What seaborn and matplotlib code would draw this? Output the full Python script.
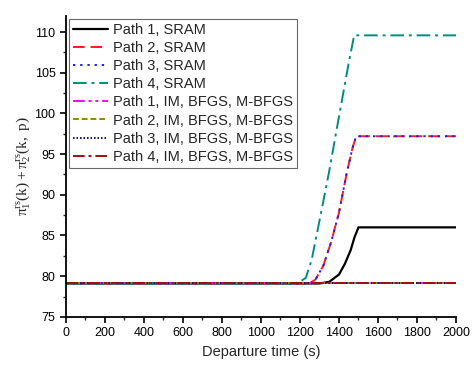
import numpy as np
import pandas as pd
import matplotlib
matplotlib.use("Agg")
import matplotlib.pyplot as plt
import seaborn as sb
from matplotlib.ticker import MultipleLocator

# values
path1_sram_t = [0, 1300, 1350, 1400, 1430, 1460, 1480, 1500, 2000]
path1_sram_v = [79.1, 79.1, 79.3, 80.2, 81.5, 83.2, 84.8, 86.0, 86.0]

path2_sram_t = [0, 1250, 1280, 1320, 1360, 1400, 1440, 1470, 1488, 2000]
path2_sram_v = [79.1, 79.1, 79.6, 81.3, 84.2, 87.8, 92.7, 95.8, 97.2, 97.2]

path3_sram_t = [0, 1250, 1280, 1320, 1360, 1400, 1440, 1470, 1488, 2000]
path3_sram_v = [79.1, 79.1, 79.6, 81.3, 84.2, 87.8, 92.7, 95.8, 97.2, 97.2]

path4_sram_t = [0, 1170, 1200, 1230, 1260, 1300, 1350, 1400, 1450, 1478, 2000]
path4_sram_v = [79.1, 79.1, 79.3, 79.8, 82.0, 86.8, 92.9, 99.6, 106.2, 109.6, 109.6]

im_t = [0, 2000]
im_v = [79.1, 79.1]

series = [
    ("Path 1, SRAM", path1_sram_t, path1_sram_v, "black", "-", 1.6),
    ("Path 2, SRAM", path2_sram_t, path2_sram_v, "#ff1a1a", (0, (6, 3)), 1.4),
    ("Path 3, SRAM", path3_sram_t, path3_sram_v, "#1a1aff", (0, (1.2, 2.5)), 1.4),
    ("Path 4, SRAM", path4_sram_t, path4_sram_v, "#008b80", (0, (7, 2.5, 1.5, 2.5)), 1.4),
    ("Path 1, IM, BFGS, M-BFGS", im_t, im_v, "#ff00ff", (0, (6, 2, 1.5, 2, 1.5, 2)), 1.4),
    ("Path 2, IM, BFGS, M-BFGS", im_t, im_v, "#8b8b00", (0, (3, 1.5)), 1.4),
    ("Path 3, IM, BFGS, M-BFGS", im_t, im_v, "#10107a", (0, (0.8, 1.0)), 1.4),
    ("Path 4, IM, BFGS, M-BFGS", im_t, im_v, "#9b1010", (0, (6, 2, 1.5, 2)), 1.4),
]

sb.set_style("ticks")
plt.rcParams['font.family'] = ['Liberation Sans', 'DejaVu Sans']
plt.rcParams['mathtext.fontset'] = 'custom'
plt.rcParams['mathtext.rm'] = 'Liberation Serif'
plt.rcParams['mathtext.it'] = 'Liberation Serif'

fig = plt.figure(figsize=(4.74, 3.68), dpi=100)
ax = fig.add_axes([0.139, 0.139, 0.823, 0.818])

for label, t, v, color, ls, lw in series:
    df = pd.DataFrame({'t': t, 'v': v})
    sb.lineplot(data=df, x='t', y='v', ax=ax, label=label, color=color,
                linestyle=ls, linewidth=lw)

ax.set_xlim(0, 2000)
ax.set_ylim(75, 112)
ax.xaxis.set_major_locator(MultipleLocator(200))
ax.xaxis.set_minor_locator(MultipleLocator(100))
ax.yaxis.set_major_locator(MultipleLocator(5))
ax.yaxis.set_minor_locator(MultipleLocator(2.5))
ax.tick_params(which='major', direction='out', length=4, width=1.2, labelsize=9, colors='black')
ax.tick_params(which='minor', direction='out', length=2.5, width=1.0)
for side in ['top', 'right']:
    ax.spines[side].set_visible(False)
for side in ['left', 'bottom']:
    ax.spines[side].set_linewidth(1.3)
    ax.spines[side].set_color('black')

ax.set_xlabel("Departure time (s)", fontsize=10.5)
ax.set_ylabel(r'$\mathrm{\pi_1^{rs}(k)+\pi_2^{rs}(k,\ p)}$', fontsize=11, labelpad=2)

leg = ax.legend(loc='upper left', fontsize=10.5, frameon=True, fancybox=False,
                borderaxespad=0.2, handlelength=2.4, labelspacing=0.28,
                borderpad=0.3, handletextpad=0.3)
leg.get_frame().set_edgecolor('#444444')
leg.get_frame().set_linewidth(0.8)

fig.savefig("out.png", dpi=100)
